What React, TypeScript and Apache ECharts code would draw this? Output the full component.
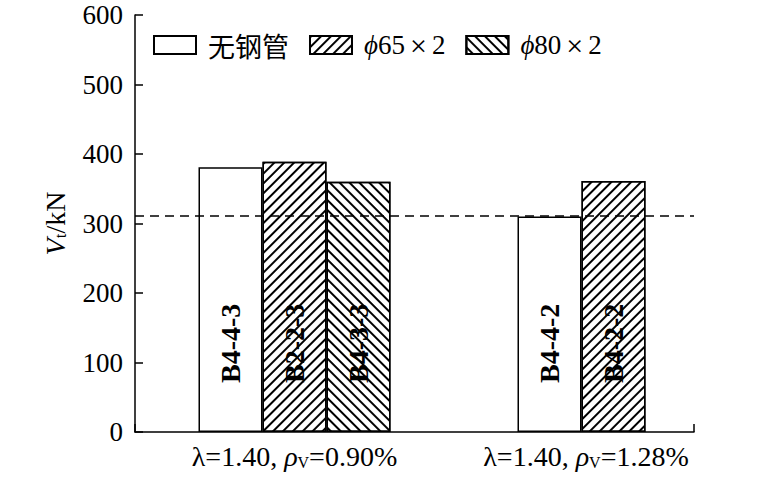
import React, { useEffect, useRef } from "react";
import * as echarts from "echarts";

const categories = ["λ=1.40, ρV=0.90%", "λ=1.40, ρV=1.28%"];
const seriesNames = ["无钢管", "ϕ65×2", "ϕ80×2"];
const noTube = [381, 310];
const tube65 = [389, 361];
const tube80: (number | null)[] = [360, null];
const noTubeLabels = ["B4-4-3", "B4-4-2"];
const tube65Labels = ["B2-2-3", "B4-2-2"];
const tube80Labels = ["B4-3-3", ""];
const refValue = 311;
const yTicks = { min: 0, max: 600, interval: 100 };

const SERIF = "'Liberation Serif', 'Times New Roman', 'Noto Sans CJK SC', serif";

export default function App() {
  const ref = useRef<HTMLDivElement>(null);
  useEffect(() => {
    if (!ref.current) return;
    const chart = echarts.init(ref.current, null, { renderer: "svg" });
    const hatch = (rot: number) => ({
      symbol: "rect",
      symbolSize: 1,
      color: "#000",
      dashArrayX: [1, 0],
      dashArrayY: [1.3, 4.4],
      rotation: rot,
    });
    const barLabel = (labels: string[]) => ({
      show: true,
      position: "insideBottom",
      rotate: 90,
      distance: 52,
      align: "left",
      verticalAlign: "middle",
      offset: [-3, 0],
      fontFamily: SERIF,
      fontWeight: "bold",
      fontSize: 28,
      color: "#000",
      formatter: (p: any) => labels[p.dataIndex] || "",
    });
    const styles = [
      { color: "#fff", borderColor: "#000", borderWidth: 1.5 },
      { color: "#fff", borderColor: "#000", borderWidth: 1.5, decal: hatch(-Math.PI / 4) },
      { color: "#fff", borderColor: "#000", borderWidth: 1.5, decal: hatch(Math.PI / 4) },
    ];
    const values = [noTube, tube65, tube80];
    const labels = [noTubeLabels, tube65Labels, tube80Labels];
    const barSeries = seriesNames.map((name, i) => ({
      type: "bar",
      name,
      xAxisIndex: 0,
      yAxisIndex: 0,
      barWidth: 64,
      barGap: "0%",
      clip: false,
      data: values[i],
      itemStyle: styles[i],
      label: barLabel(labels[i]),
      z: 2,
    }));
    const legendFmt = (name: string) => {
      const m = name.match(/^ϕ(\d+)×(\d+)$/);
      if (!m) return "{c|" + name + "}";
      return "{i|ϕ}{n|" + m[1] + "}{x|×}{n|" + m[2] + "}";
    };
    chart.setOption({
      animation: false,
      backgroundColor: "#fff",
      legend: {
        data: seriesNames,
        left: 148,
        top: 25,
        itemWidth: 42,
        itemHeight: 18,
        itemGap: 20,
        icon: "rect",
        formatter: legendFmt,
        textStyle: {
          fontFamily: SERIF,
          fontSize: 27,
          color: "#000",
          padding: [0, 0, 0, 7],
          rich: {
            c: { fontFamily: "'Noto Sans CJK SC', sans-serif", fontSize: 27, color: "#000" },
            n: { fontFamily: SERIF, fontSize: 27, color: "#000" },
            i: { fontFamily: SERIF, fontStyle: "italic", fontSize: 27, color: "#000" },
            x: { fontFamily: SERIF, fontSize: 30, color: "#000", padding: [0, 5] },
          },
        },
      },
      grid: [
        { left: 294.5, top: 15, width: 319, height: 417 },
        { left: 135, top: 15, right: 66, height: 417 },
      ],
      xAxis: [
        {
          type: "category",
          gridIndex: 0,
          data: categories,
          boundaryGap: false,
          axisLine: { show: false },
          axisTick: { show: false },
          axisLabel: {
            interval: 0,
            margin: 10,
            fontFamily: SERIF,
            fontSize: 28,
            color: "#000",
            formatter: (v: string, idx: number) => {
              const parts = v.split("ρV");
              const s = "{n|" + parts[0] + "}{i|ρ}{s|V}{n|" + parts[1] + "}";
              return idx === 1 ? s + "{p|}" : s;
            },
            rich: {
              n: { fontFamily: SERIF, fontSize: 28, color: "#000" },
              i: { fontFamily: SERIF, fontStyle: "italic", fontSize: 28, color: "#000" },
              s: { fontFamily: SERIF, fontSize: 16, color: "#000", verticalAlign: "bottom", lineHeight: 16 },
              p: { width: 55 },
            },
          },
        },
        {
          type: "value",
          gridIndex: 1,
          min: 0,
          max: 1,
          interval: 1,
          axisLine: { show: true, lineStyle: { color: "#000", width: 1.5 } },
          axisTick: { show: true, inside: true, length: 8, lineStyle: { color: "#000", width: 1.5 } },
          axisLabel: { show: false },
          splitLine: { show: false },
        },
      ],
      yAxis: [
        {
          type: "value",
          gridIndex: 0,
          ...yTicks,
          show: false,
          splitLine: { show: false },
        },
        {
          type: "value",
          gridIndex: 1,
          ...yTicks,
          axisLine: { show: true, lineStyle: { color: "#000", width: 1.5 } },
          axisTick: { show: true, inside: true, length: 8, lineStyle: { color: "#000", width: 1.5 } },
          splitLine: { show: false },
          axisLabel: { margin: 12, fontFamily: SERIF, fontSize: 27, color: "#000" },
          name: "{v|V}{t|t}{n|/kN}",
          nameLocation: "middle",
          nameRotate: 90,
          nameGap: 66,
          nameTextStyle: {
            rich: {
              v: { fontFamily: SERIF, fontStyle: "italic", fontSize: 28, color: "#000" },
              t: { fontFamily: SERIF, fontSize: 17, color: "#000", verticalAlign: "bottom", lineHeight: 17 },
              n: { fontFamily: SERIF, fontSize: 28, color: "#000" },
            },
          },
        },
      ],
      series: [
        ...barSeries,
        {
          type: "line",
          name: "ref",
          xAxisIndex: 1,
          yAxisIndex: 1,
          data: [],
          z: 10,
          markLine: {
            silent: true,
            symbol: "none",
            label: { show: false },
            lineStyle: { color: "#000", type: [9, 6], width: 1.5 },
            data: [{ yAxis: refValue }],
          },
        },
      ],
    });
    return () => chart.dispose();
  }, []);
  return (
    <div
      ref={ref}
      style={{ position: "absolute", left: 0, top: 0, width: 760, height: 493 }}
    />
  );
}
